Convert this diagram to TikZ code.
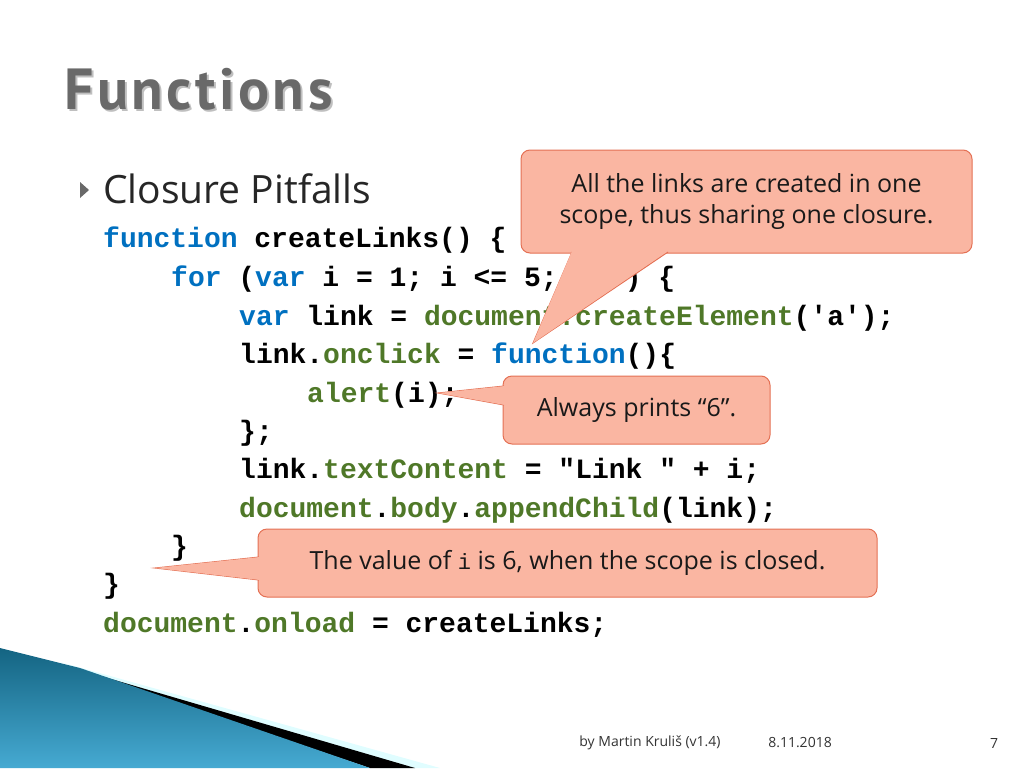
\documentclass[tikz,border=0pt]{standalone}
\usepackage{fontspec}
\setmainfont{Open Sans}
\newfontfamily\code{Liberation Mono}[BoldFont={* Bold}]
\newfontfamily\ttl{PT Sans}[LetterSpace=6]
\definecolor{kw}{RGB}{0,112,192}
\definecolor{gr}{RGB}{79,120,40}
\definecolor{cfill}{RGB}{250,182,162}
\definecolor{cdraw}{RGB}{228,112,84}
\definecolor{tgray}{RGB}{105,105,105}
\newcommand{\K}[1]{\textcolor{kw}{#1}}
\newcommand{\G}[1]{\textcolor{gr}{#1}}
\begin{document}
\begin{tikzpicture}[x=1pt,y=-1pt,
  cl/.style={anchor=base west,inner sep=0pt,font=\code\bfseries\fontsize{28}{28}\selectfont},
  callout/.style={draw=cdraw,line width=1pt,fill=cfill,rounded corners=9pt,inner sep=0pt},
  ctext/.style={font=\fontsize{25}{31}\selectfont,align=center,text=black!90},
  foot/.style={font=\fontsize{14}{14}\selectfont,text=black!80}]
\useasboundingbox (0,0) rectangle (1024,768);
% bottom-left decoration
\fill[blue!5!cyan!12!white] (60,662) -- (440,768) -- (380,768) -- cycle;
\fill[black] (60,664) -- (415,768) -- (370,768) -- cycle;
\shade[top color={rgb,255:red,20;green,100;blue,130},bottom color={rgb,255:red,70;green,170;blue,210}] (0,648) -- (80,668) -- (370,768) -- (0,768) -- cycle;
% title
\node[anchor=base west,inner sep=0pt,text=black!25,font=\ttl\bfseries\fontsize{58}{58}\selectfont] (tsh) at (66,111) {Functions};
\node[anchor=base west,inner sep=0pt,text=tgray,font=\ttl\bfseries\fontsize{58}{58}\selectfont] (title) at (64,109) {Functions};
% bullet
\fill[tgray] (80,182) -- (89,190) -- (80,198) -- cycle;
\node[anchor=base west,inner sep=0pt,font=\fontsize{39}{39}\selectfont,text=black!85] (head) at (103,203) {Closure Pitfalls};
% code
\node[cl] (l1) at (103,247) {\K{function} createLinks() \{};
\node[cl] (l2) at (171,286) {\K{for} (\K{var} i = 1; i <= 5; i++) \{};
\node[cl] (l3) at (239,325) {\K{var} link = \G{document.createElement}('a');};
\node[cl] (l4) at (239,363) {link.\G{onclick} = \K{function}()\{};
\node[cl] (l5) at (307,402) {\G{alert}(i);};
\node[cl] (l6) at (239,440) {\};};
\node[cl] (l7) at (239,478) {link.\G{textContent} = "Link " + i;};
\node[cl] (l8) at (239,517) {\G{document}.\G{body}.\G{appendChild}(link);};
\node[cl] (l9) at (171,555) {\}};
\node[cl] (l10) at (103,593) {\}};
\node[cl] (l11) at (103,632) {\G{document}.\G{onload} = createLinks;};
% callouts
\coordinate (p1) at (533,343);
\coordinate (p2) at (438,393);
\coordinate (p3) at (155,568);
\node[callout,minimum width=451pt,minimum height=103pt] (c1) at (746.5,201.5) {};
\node[callout,minimum width=267pt,minimum height=68pt] (c2) at (636.5,410) {};
\node[callout,minimum width=619pt,minimum height=68pt] (c3) at (567.5,563) {};
\draw[cdraw,line width=1pt,fill=cfill] (572,252) -- (p1) -- (668,252);
\fill[cfill] (572,251) -- (p1) -- (668,251) -- cycle;
\draw[cdraw,line width=1pt,fill=cfill] (504,386) -- (p2) -- (504,405);
\fill[cfill] (505,386) -- (p2) -- (505,405) -- cycle;
\draw[cdraw,line width=1pt,fill=cfill] (259,557) -- (p3) -- (259,580);
\fill[cfill] (260,557) -- (p3) -- (260,580) -- cycle;
\node[ctext] (t1) at (c1) {All the links are created in one\\scope, thus sharing one closure.};
\node[ctext] (t2) at (c2) {Always prints “6”.};
\node[ctext] (t3) at (c3) {The value of {\code\fontsize{22}{22}\selectfont i} is 6, when the scope is closed.};
% footer
\node[foot] (f1) at (650,743) {by Martin Kruliš (v1.4)};
\node[foot] (f2) at (800,743) {8.11.2018};
\node[foot] (f3) at (994,743) {7};
\end{tikzpicture}
\end{document}
